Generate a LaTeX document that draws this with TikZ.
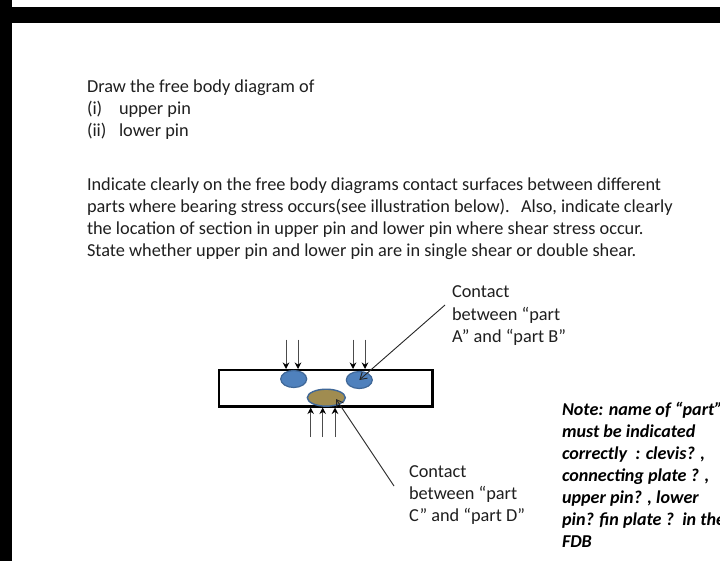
\documentclass[tikz,border=0pt]{standalone}
\usepackage{fontspec}
\setmainfont{Carlito}
\usetikzlibrary{arrows.meta,shapes.geometric}
\definecolor{pinfill}{HTML}{4F81BD}
\definecolor{olivefill}{HTML}{A08C50}
\definecolor{pinedge}{HTML}{3F6797}
\tikzset{
  txt/.style={anchor=base west,inner sep=0pt,outer sep=0pt,font=\fontsize{18.3}{22}\selectfont,text=black!88},
  note/.style={anchor=base west,inner sep=0pt,outer sep=0pt,font=\fontsize{18.1}{22}\selectfont\bfseries\itshape,text=black},
  bar/.style={fill=black,draw=none},
  plate/.style={draw=black,line width=2.2pt,fill=white},
  pinblue/.style={ellipse,draw=pinedge,fill=pinfill,line width=1.2pt,inner sep=0pt},
  pinolive/.style={ellipse,draw=pinedge,fill=olivefill,line width=1.4pt,inner sep=0pt},
  force/.style={draw=black!70,line width=1pt,-{Stealth[length=6.5pt,width=6.5pt,color=black]}},
  leader/.style={draw=black!85,line width=0.9pt,-{Straight Barb[length=6.5pt,width=8pt]}},
}
\begin{document}
\begin{tikzpicture}[x=1pt,y=-1pt]
\useasboundingbox (0,0) rectangle (720,561);
\begin{scope}
\clip (0,0) rectangle (720,561);
\fill[white] (0,0) rectangle (720,561);
\path[bar] (0,0) rectangle (12,561);
\path[bar] (0,7) rectangle (720,23);

\node[txt] (t1) at (87,93) {Draw the free body diagram of};
\node[txt] (t2a) at (87,115) {(i)};
\node[txt] (t2b) at (119,115) {upper pin};
\node[txt] (t3a) at (87,137) {(ii)};
\node[txt] (t3b) at (119,137) {lower pin};

\node[txt] (p1) at (87,191) {Indicate clearly on the free body diagrams contact surfaces between different};
\node[txt] (p2) at (87,213) {parts where bearing stress occurs(see illustration below).\ \ \kern3pt Also, indicate clearly};
\node[txt] (p3) at (87,235) {the location of section in upper pin and lower pin where shear stress occur.};
\node[txt] (p4) at (87,257) {State whether upper pin and lower pin are in single shear or double shear.};

\node[txt] (ca1) at (452,298) {Contact};
\node[txt] (ca2) at (452,320) {between “part};
\node[txt] (ca3) at (452,342) {A” and “part B”};

\node[txt] (cc1) at (409,477) {Contact};
\node[txt] (cc2) at (409,499) {between “part};
\node[txt] (cc3) at (409,521) {C” and “part D”};

\node[note] (n1) at (562,415) {Note: name of “part”};
\node[note] (n2) at (562,437) {must be indicated};
\node[note] (n3) at (562,459) {correctly\ \ : clevis? ,};
\node[note] (n4) at (562,481) {connecting plate ? ,};
\node[note] (n5) at (562,503) {upper pin? , lower};
\node[note] (n6) at (562,525) {pin? fin plate ?\ \ in the};
\node[note] (n7) at (562,547) {FDB};

\draw[plate] (219,370) rectangle (432.5,406.5);
\node[pinblue,minimum width=26pt,minimum height=17pt] (pa) at (293.7,379) {};
\node[pinblue,minimum width=26pt,minimum height=17pt] (pb) at (359.3,380) {};
\node[pinolive,minimum width=38pt,minimum height=17pt] (pc) at (326.3,397.7) {};

\coordinate (d1s) at (286,339.5); \coordinate (d1e) at (286,369);
\coordinate (d2s) at (298,339.5); \coordinate (d2e) at (298,369);
\coordinate (d3s) at (353,339.5); \coordinate (d3e) at (353,369);
\coordinate (d4s) at (365,339.5); \coordinate (d4e) at (365,369);
\draw[force] (d1s) -- (d1e);
\draw[force] (d2s) -- (d2e);
\draw[force] (d3s) -- (d3e);
\draw[force] (d4s) -- (d4e);

\coordinate (u1s) at (310.7,437); \coordinate (u1e) at (310.7,407.5);
\coordinate (u2s) at (322.7,437); \coordinate (u2e) at (322.7,407.5);
\coordinate (u3s) at (335,437); \coordinate (u3e) at (335,407.5);
\draw[force] (u1s) -- (u1e);
\draw[force] (u2s) -- (u2e);
\draw[force] (u3s) -- (u3e);

\coordinate (la) at (445,305);
\coordinate (lb) at (394,486);
\draw[leader] (la) -- (pb.center);
\draw[leader] (lb) -- (336,399);
\end{scope}
\end{tikzpicture}
\end{document}
